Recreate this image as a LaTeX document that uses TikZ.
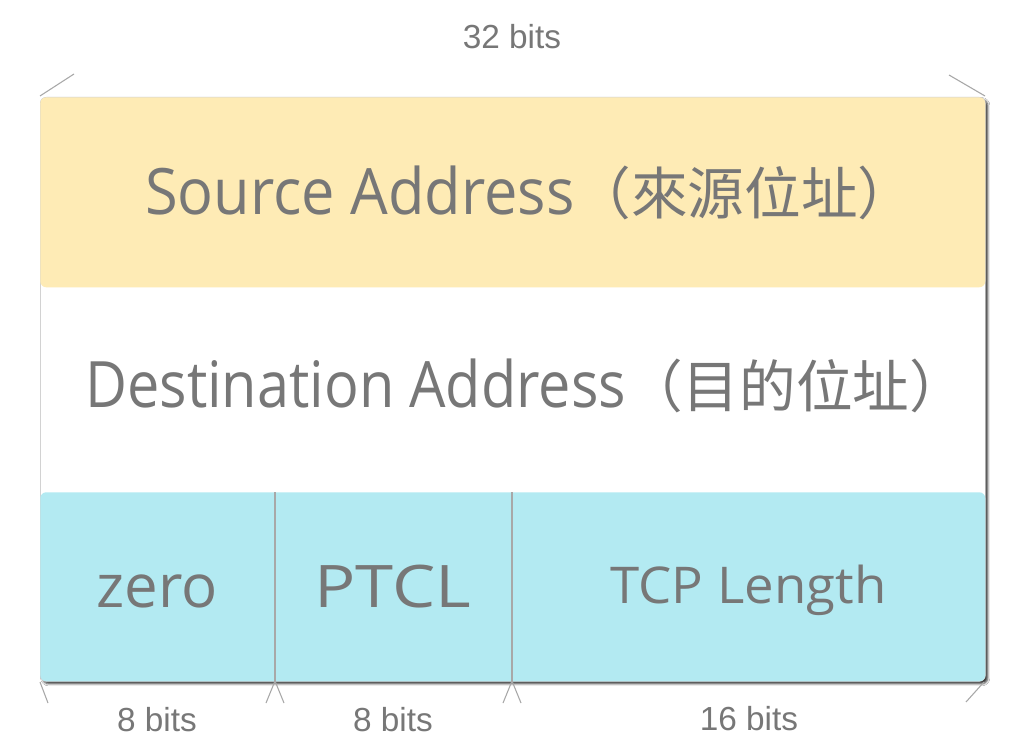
\documentclass[tikz,border=0pt]{standalone}
\usepackage{fontspec}
\usepackage{graphicx}
\setmainfont{Open Sans}
\newfontfamily\cjk{Noto Sans CJK TC}
\newfontfamily\lab{Liberation Sans}
\usetikzlibrary{shadows.blur}
\definecolor{txt}{HTML}{777777}
\definecolor{ylw}{HTML}{FEEBB5}
\definecolor{cyn}{HTML}{B3EAF2}
\definecolor{tickc}{HTML}{A8A8A8}
\newcommand\mixlbl[3]{\scalebox{#1}[1]{#2}\kern0pt{\cjk\fontsize{42.5}{42.5}\selectfont #3}}
\begin{document}
\begin{tikzpicture}[x=0.75pt,y=-0.75pt,
  bigtxt/.style={text=txt,font=\fontsize{48}{48}\selectfont,inner sep=0pt,anchor=base west},
  celltxt/.style={text=txt,inner sep=0pt,anchor=base},
  bitlab/.style={text=txt,font=\lab\fontsize{25}{25}\selectfont,inner sep=0pt},
  band/.style={rounded corners=4.5pt,inner sep=0pt,anchor=north west},
  ticks/.style={draw=tickc,line width=0.8pt},
  divider/.style={draw=tickc,line width=0.8pt}]
\useasboundingbox (0,0) rectangle (1024,755);
\fill[white] (0,0) rectangle (1024,755);
% frame
\node[band,fill=white,draw=gray!45,line width=0.5pt,
  minimum width=945*0.75pt,minimum height=584*0.75pt,
  blur shadow={shadow xshift=1.8pt,shadow yshift=-1.8pt,shadow blur radius=1.6pt,shadow opacity=80}]
  (frame) at (40,97) {};
\node[band,fill=ylw,minimum width=945*0.75pt,minimum height=190*0.75pt] (srcband) at (40,97) {};
\node[band,fill=cyn,minimum width=945*0.75pt,minimum height=189*0.75pt] (lowband) at (40,492) {};
% dividers
\coordinate (d1t) at (275,492); \coordinate (d1b) at (275,681);
\coordinate (d2t) at (512,492); \coordinate (d2b) at (512,681);
\draw[divider] (d1t) -- (d1b);
\draw[divider] (d2t) -- (d2b);
% top ticks
\coordinate (tl0) at (40,96); \coordinate (tl1) at (74,74);
\coordinate (tr0) at (985,96); \coordinate (tr1) at (949,75);
\draw[ticks] (tl0) -- (tl1);
\draw[ticks] (tr0) -- (tr1);
% bottom ticks
\coordinate (bl0) at (40,682); \coordinate (bl1) at (48,703);
\coordinate (b1a) at (266,703); \coordinate (b1b) at (284,703);
\coordinate (b2a) at (503,703); \coordinate (b2b) at (521,703);
\coordinate (br0) at (984,682); \coordinate (br1) at (966,702);
\draw[ticks] (bl0) -- (bl1);
\draw[ticks] (d1b) -- (b1a); \draw[ticks] (d1b) -- (b1b);
\draw[ticks] (d2b) -- (b2a); \draw[ticks] (d2b) -- (b2b);
\draw[ticks] (br0) -- (br1);
% texts
\node[bitlab] (w32) at (512,37) {32 bits};
\node[bigtxt] (src) at (145,215) {\mixlbl{0.93}{Source Address}{（來源位址）}};
\node[bigtxt] (dst) at (85,407) {\mixlbl{0.90}{Destination Address}{（目的位址）}};
\node[celltxt,font=\fontsize{45}{45}\selectfont] (zero) at (157.5,607.5) {zero};
\node[celltxt,font=\fontsize{44}{44}\selectfont] (ptcl) at (393,607) {\scalebox{1.17}[1]{PTCL}};
\node[celltxt,font=\fontsize{38}{38}\selectfont] (tcpl) at (748.5,603) {\scalebox{1.04}[1]{TCP Length}};
\node[bitlab] (w8a) at (157,720) {8 bits};
\node[bitlab] (w8b) at (393,720) {8 bits};
\node[bitlab] (w16) at (749,719) {16 bits};
\end{tikzpicture}
\end{document}
